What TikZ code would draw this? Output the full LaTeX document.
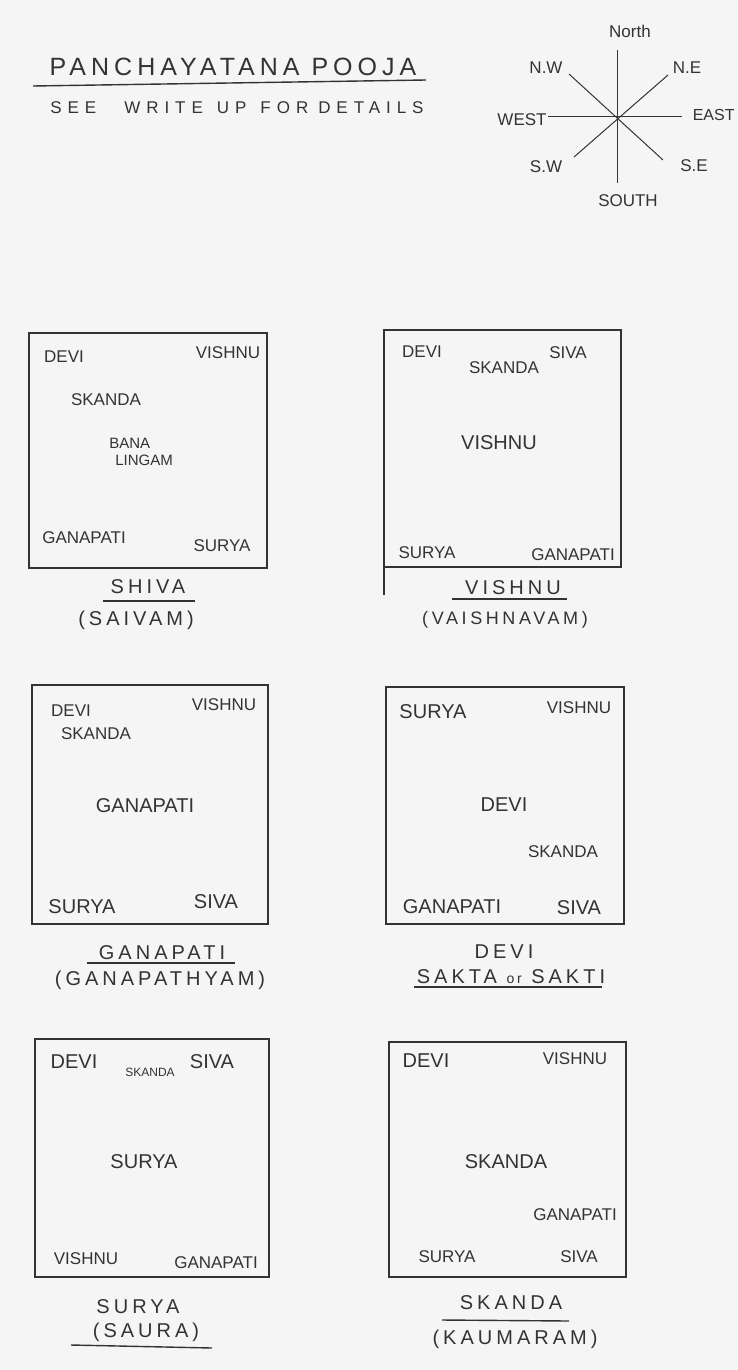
\documentclass[tikz,border=0pt]{standalone}
\usepackage{fontspec}
\usepackage{tikz}
\newfontfamily\hand{Liberation Sans}
\newfontfamily\handw{Liberation Sans}[LetterSpace=20]
\newfontfamily\handx{Liberation Sans}[LetterSpace=35]
\colorlet{ink}{black!80}
\colorlet{paper}{black!4}
\tikzset{
	lbl/.style={inner sep=0pt,text=ink,font=\hand\fontsize{8.5}{10}\selectfont},
	lblsm/.style={inner sep=0pt,text=ink,font=\hand\fontsize{6}{7}\selectfont},
	lblbig/.style={inner sep=0pt,text=ink,font=\hand\fontsize{10}{12}\selectfont},
	capt/.style={inner sep=0pt,text=ink,font=\handw\fontsize{10}{12}\selectfont},
	ttl/.style={inner sep=0pt,text=ink,font=\handw\fontsize{12.5}{14}\selectfont},
	subttl/.style={inner sep=0pt,text=ink,font=\handx\fontsize{8.5}{10}\selectfont},
	temple/.style={draw=ink,line width=0.8pt},
	uline/.style={draw=ink,line width=0.7pt},
	dir/.style={draw=ink,line width=0.5pt},
}
\begin{document}
\begin{tikzpicture}[x=0.5pt,y=-0.5pt]
\useasboundingbox (0,0) rectangle (738,1370);
\fill[paper] (0,0) rectangle (738,1370);
%TITLE
\node[ttl] (t) at (233,67) {PANCHAYATANA POOJA};
\node[subttl] (st) at (237,108) {SEE\hspace{14pt}WRITE\hspace{7pt}UP\hspace{7pt}FOR\hspace{5pt}DETAILS};
\draw[uline] (33,86) -- (426,80);
%COMPASS
\coordinate (cn) at (617,50);
\coordinate (cs) at (617,183);
\coordinate (cw) at (548,117);
\coordinate (ce) at (682,117);
\coordinate (cnw) at (569,74);
\coordinate (cse) at (663,160);
\coordinate (cne) at (668,75);
\coordinate (csw) at (574,157);
\draw[dir] (cn) -- (cs);
\draw[dir] (cw) -- (ce);
\draw[dir] (cnw) -- (cse);
\draw[dir] (cne) -- (csw);
\node[lbl] (n) at (630,31) {North};
\node[lbl] (nw) at (546,68) {N.W};
\node[lbl] (ne) at (687,68) {N.E};
\node[lbl] (w) at (522,120) {WEST};
\node[lbl,font=\hand\fontsize{8}{10}\selectfont,anchor=east] (e) at (735,115) {EAST};
\node[lbl] (sw) at (546,167) {S.W};
\node[lbl] (se) at (694,166) {S.E};
\node[lbl] (s) at (628,201) {SOUTH};
%BOXES
\draw[temple] (29,333) rectangle (267,568);
\draw[temple] (384,330) rectangle (621,567);
\draw[temple] (384,567) -- (384,595);
\draw[temple] (32,685) rectangle (268,924);
\draw[temple] (386,687) rectangle (624,924);
\draw[temple] (35,1039) rectangle (269,1277);
\draw[temple] (389,1042) rectangle (626,1277);
%SHIVA
\node[lbl] (dv1) at (64,357) {DEVI};
\node[lbl] (vs1) at (228,353) {VISHNU};
\node[lbl] (sk1) at (106,400) {SKANDA};
\node[lbl,font=\hand\fontsize{7.5}{7.5}\selectfont,align=left,anchor=north west] (bl1) at (109,438) {BANA\\[1pt]\hspace{3pt}LINGAM};
\node[lbl] (gp1) at (84,538) {GANAPATI};
\node[lbl] (sr1) at (222,546) {SURYA};
\node[capt] (c1) at (148,587) {SHIVA};
\draw[uline] (103,601) -- (195,601);
\node[capt] (p1) at (136,620) {(SAIVAM)};
%VISHNU
\node[lbl] (dv2) at (422,352) {DEVI};
\node[lbl] (sv2) at (568,353) {SIVA};
\node[lbl] (sk2) at (504,368) {SKANDA};
\node[lblbig] (vs2) at (499,443) {VISHNU};
\node[lbl] (sr2) at (427,553) {SURYA};
\node[lbl] (gp2) at (573,555) {GANAPATI};
\node[capt] (c2) at (513,588) {VISHNU};
\draw[uline] (452,599) -- (567,599);
\node[capt,font=\handw\fontsize{9}{11}\selectfont] (p2) at (505,620) {(VAISHNAVAM)};
%GANAPATI
\node[lbl] (dv3) at (71,711) {DEVI};
\node[lbl] (vs3) at (224,705) {VISHNU};
\node[lbl] (sk3) at (96,734) {SKANDA};
\node[lblbig] (gp3) at (145,806) {GANAPATI};
\node[lblbig] (sr3) at (82,907) {SURYA};
\node[lblbig] (sv3) at (216,902) {SIVA};
\node[capt] (c3) at (162,953) {GANAPATI};
\draw[uline] (87,963) -- (235,963);
\node[capt] (p3) at (160,980) {(GANAPATHYAM)};
%DEVI
\node[lblbig] (sr4) at (433,712) {SURYA};
\node[lbl] (vs4) at (579,708) {VISHNU};
\node[lblbig] (dv4) at (504,805) {DEVI};
\node[lbl] (sk4) at (563,852) {SKANDA};
\node[lblbig] (gp4) at (452,907) {GANAPATI};
\node[lblbig] (sv4) at (579,908) {SIVA};
\node[capt] (c4) at (504,952) {DEVI};
\node[capt] (p4) at (511,977) {SAKTA {\fontsize{7}{8}\selectfont or} SAKTI};
\draw[uline] (414,987) -- (602,987);
%SURYA
\node[lblbig] (dv5) at (74,1062) {DEVI};
\node[lblsm] (sk5) at (150,1072) {SKANDA};
\node[lblbig] (sv5) at (212,1062) {SIVA};
\node[lblbig] (sr5) at (144,1162) {SURYA};
\node[lbl] (vs5) at (86,1259) {VISHNU};
\node[lbl] (gp5) at (216,1263) {GANAPATI};
\node[capt] (c5) at (138,1307) {SURYA};
\node[capt] (p5) at (146,1332) {(SAURA)};
\draw[uline] (71,1345) -- (212,1348);
%SKANDA
\node[lblbig] (dv6) at (426,1061) {DEVI};
\node[lbl] (vs6) at (575,1059) {VISHNU};
\node[lblbig] (sk6) at (506,1162) {SKANDA};
\node[lbl] (gp6) at (575,1215) {GANAPATI};
\node[lbl] (sr6) at (447,1257) {SURYA};
\node[lbl] (sv6) at (579,1257) {SIVA};
\node[capt] (c6) at (511,1303) {SKANDA};
\draw[uline] (442,1320) -- (569,1321);
\node[capt] (p6) at (515,1339) {(KAUMARAM)};
\end{tikzpicture}
\end{document}
